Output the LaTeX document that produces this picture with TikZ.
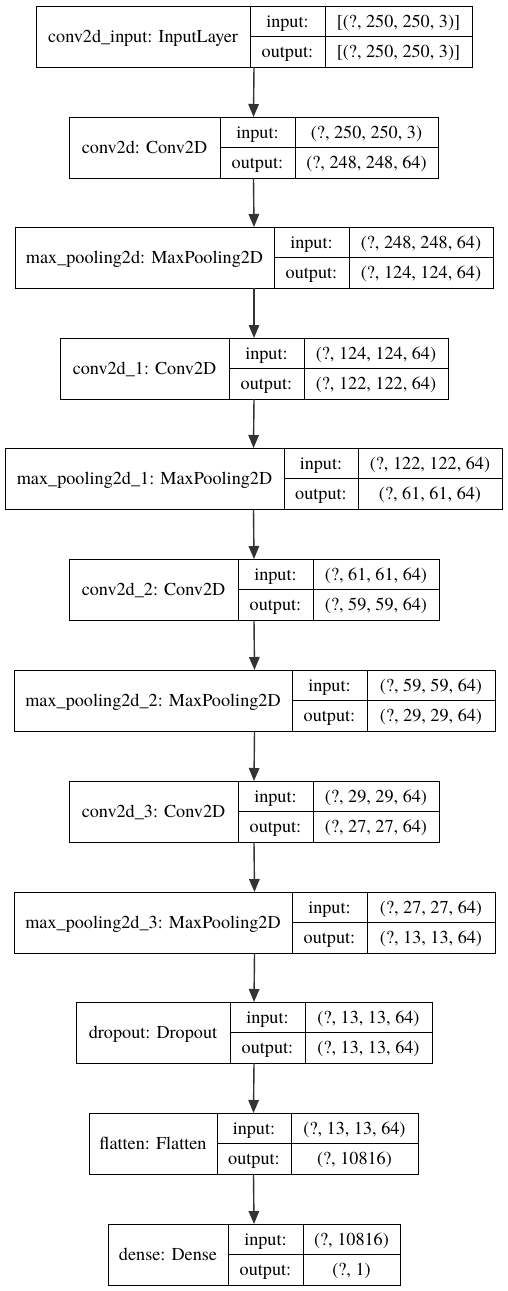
\documentclass[tikz,border=0pt]{standalone}
\usepackage{fontspec}
\newfontfamily\layerfont{texgyretermes-regular.otf}
\usetikzlibrary{arrows.meta}
\tikzset{
  box/.style={draw=black, line width=1pt, inner sep=0pt, outer sep=0pt, rectangle},
  cell/.style={draw=black, line width=1pt},
  txt/.style={inner sep=0pt, text height=13.5pt, text depth=2pt, font=\layerfont\fontsize{18.2}{20}\selectfont},
  arr/.style={draw=black!80, line width=1.4pt, -{Triangle[length=13pt,width=10.5pt]}}
}
\newcommand\kerasLayer[9]{%
  \pgfmathsetmacro\lB{#4+61}%
  \pgfmathsetmacro\lM{#4+30.5}%
  \pgfmathsetmacro\lW{#3-#2}%
  \pgfmathsetmacro\lC{(#2+#3)/2}%
  \node[box, minimum width=\lW pt, minimum height=61pt] (#1) at (\lC,\lM) {};
  \draw[cell] (#5,#4) -- (#5,\lB) (#6,#4) -- (#6,\lB) (#5,\lM) -- (#3,\lM);
  \node[txt] (#1-name) at ({(#2+#5)/2},\lM) {#7};
  \node[txt] (#1-inl) at ({(#5+#6)/2},{#4+15.25}) {input:};
  \node[txt] (#1-outl) at ({(#5+#6)/2},{#4+45.75}) {output:};
  \node[txt] (#1-inv) at ({(#6+#3)/2},{#4+15.25}) {#8};
  \node[txt] (#1-outv) at ({(#6+#3)/2},{#4+45.75}) {#9};
}
\begin{document}
\begin{tikzpicture}[x=1pt,y=-1pt]
\useasboundingbox[fill=white] (0,0) rectangle (508,1291);
\kerasLayer{L1}{36}{472}{6}{250}{325}{conv2d\_input: InputLayer}{[(?, 250, 250, 3)]}{[(?, 250, 250, 3)]}
\kerasLayer{L2}{69}{438}{117}{220}{295}{conv2d: Conv2D}{(?, 250, 250, 3)}{(?, 248, 248, 64)}
\kerasLayer{L3}{15}{493}{227}{274}{349}{max\_pooling2d: MaxPooling2D}{(?, 248, 248, 64)}{(?, 124, 124, 64)}
\kerasLayer{L4}{60}{448}{338}{229}{304}{conv2d\_1: Conv2D}{(?, 124, 124, 64)}{(?, 122, 122, 64)}
\kerasLayer{L5}{5}{502}{448}{284}{358}{max\_pooling2d\_1: MaxPooling2D}{(?, 122, 122, 64)}{(?, 61, 61, 64)}
\kerasLayer{L6}{69}{439}{559}{238}{313}{conv2d\_2: Conv2D}{(?, 61, 61, 64)}{(?, 59, 59, 64)}
\kerasLayer{L7}{14}{495}{670}{292}{367}{max\_pooling2d\_2: MaxPooling2D}{(?, 59, 59, 64)}{(?, 29, 29, 64)}
\kerasLayer{L8}{69}{439}{781}{238}{313}{conv2d\_3: Conv2D}{(?, 29, 29, 64)}{(?, 27, 27, 64)}
\kerasLayer{L9}{14}{495}{892}{292}{367}{max\_pooling2d\_3: MaxPooling2D}{(?, 27, 27, 64)}{(?, 13, 13, 64)}
\kerasLayer{L10}{76}{432}{1002}{230}{305}{dropout: Dropout}{(?, 13, 13, 64)}{(?, 13, 13, 64)}
\kerasLayer{L11}{89}{418}{1113}{217}{291}{flatten: Flatten}{(?, 13, 13, 64)}{(?, 10816)}
\kerasLayer{L12}{108}{400}{1224}{228}{303}{dense: Dense}{(?, 10816)}{(?, 1)}
\foreach \a/\b in {L1/L2,L2/L3,L3/L4,L4/L5,L5/L6,L6/L7,L7/L8,L8/L9,L9/L10,L10/L11,L11/L12}
  \draw[arr] (\a.south) -- (\b.north);
\end{tikzpicture}
\end{document}
